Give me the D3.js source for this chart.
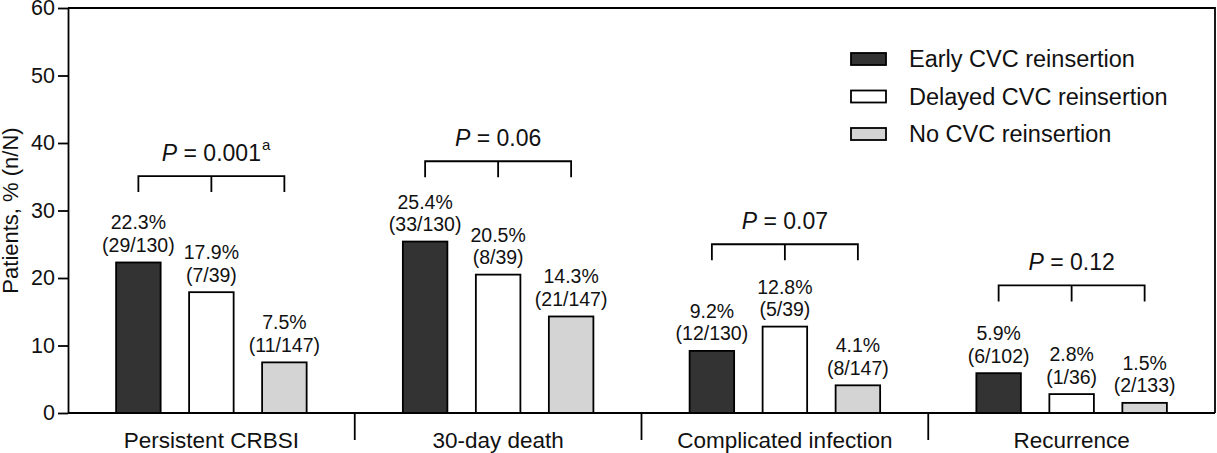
<!DOCTYPE html>
<html>
<head>
  <meta charset="utf-8">
  <script src="https://d3js.org/d3.v7.min.js"></script>
  <style>
    body { margin: 0; background: #fff; }
    svg { display: block; font-family: "Liberation Sans", Arial, sans-serif; }
  </style>
</head>
<body>
  <svg width="1217" height="453"></svg>

  <script>
    // Chart data
    var categories = ["Persistent CRBSI", "30-day death", "Complicated infection", "Recurrence"];
    var seriesNames = ["Early CVC reinsertion", "Delayed CVC reinsertion", "No CVC reinsertion"];
    var earlyPct = [22.3, 25.4, 9.2, 5.9];
    var earlyN = ["29/130", "33/130", "12/130", "6/102"];
    var delayedPct = [17.9, 20.5, 12.8, 2.8];
    var delayedN = ["7/39", "8/39", "5/39", "1/36"];
    var nonePct = [7.5, 14.3, 4.1, 1.5];
    var noneN = ["11/147", "21/147", "8/147", "2/133"];
    var pValues = ["0.001", "0.06", "0.07", "0.12"];
    var pNotes = ["a", "", "", ""];
    var bracketLevel = [35.1, 37.3, 25.0, 18.9];
    var yTicks = [0, 10, 20, 30, 40, 50, 60];

    var colors = ["#333333", "#ffffff", "#d4d4d4"];

    var svg = d3.select("svg");
    var margin = { left: 68, right: 2, top: 8, bottom: 40 };
    var W = 1217, H = 453;

    var x = d3.scaleBand()
      .domain(categories)
      .range([margin.left, W - margin.right])
      .padding(0);

    var xs = d3.scaleBand()
      .domain(seriesNames)
      .range([0, x.bandwidth()])
      .paddingInner(0.39)
      .paddingOuter(0.659);

    var y = d3.scaleLinear()
      .domain([0, 60])
      .range([H - margin.bottom, margin.top]);

    // build rows for the bars
    var pctBySeries = [earlyPct, delayedPct, nonePct];
    var nBySeries = [earlyN, delayedN, noneN];
    var rows = [];
    categories.forEach((c, i) => {
      seriesNames.forEach((s, j) => {
        rows.push({ cat: c, series: s, idx: j, value: pctBySeries[j][i], n: nBySeries[j][i] });
      });
    });

    // frame (top + right)
    svg.append("path")
      .attr("d", `M${margin.left},${y(60)} H${W - margin.right} V${y(0)}`)
      .attr("fill", "none")
      .attr("stroke", "#000")
      .attr("stroke-width", 1.8);

    // bars
    svg.selectAll("rect.bar")
      .data(rows)
      .enter()
      .append("rect")
      .attr("class", "bar")
      .attr("x", d => x(d.cat) + xs(d.series))
      .attr("y", d => y(d.value))
      .attr("width", xs.bandwidth())
      .attr("height", d => y(0) - y(d.value))
      .attr("fill", d => colors[d.idx])
      .attr("stroke", "#000")
      .attr("stroke-width", 1.8);

    // bar labels
    var lab = svg.selectAll("text.val")
      .data(rows)
      .enter()
      .append("text")
      .attr("class", "val")
      .attr("text-anchor", "middle")
      .attr("font-size", 19.5)
      .attr("fill", "#111");
    lab.append("tspan")
      .attr("x", d => x(d.cat) + xs(d.series) + xs.bandwidth() / 2)
      .attr("y", d => y(d.value) - 33)
      .text(d => d.value.toFixed(1) + "%");
    lab.append("tspan")
      .attr("x", d => x(d.cat) + xs(d.series) + xs.bandwidth() / 2)
      .attr("y", d => y(d.value) - 10.5)
      .text(d => "(" + d.n + ")");

    // brackets with P values
    categories.forEach((c, i) => {
      var cx = seriesNames.map(s => x(c) + xs(s) + xs.bandwidth() / 2);
      var by = y(bracketLevel[i]);
      svg.append("path")
        .attr("d", `M${cx[0]},${by + 16} V${by} H${cx[2]} V${by + 16} M${cx[1]},${by} V${by + 16}`)
        .attr("fill", "none")
        .attr("stroke", "#000")
        .attr("stroke-width", 1.8);

      var t = svg.append("text")
        .attr("x", cx[1])
        .attr("y", by - 15)
        .attr("text-anchor", "middle")
        .attr("font-size", 23)
        .attr("fill", "#111");
      t.append("tspan").attr("font-style", "italic").text("P");
      t.append("tspan").text(" = " + pValues[i]);

      if (pNotes[i]) {
        var box = t.node().getBBox();
        svg.append("text")
          .attr("x", box.x + box.width + 1)
          .attr("y", by - 26)
          .attr("font-size", 15)
          .attr("fill", "#111")
          .text(pNotes[i]);
      }
    });

    // y axis
    var yAxis = svg.append("g")
      .attr("transform", `translate(${margin.left},0)`)
      .call(d3.axisLeft(y).tickValues(yTicks).tickSize(10).tickPadding(3).tickSizeOuter(0));
    yAxis.selectAll("path, line").attr("stroke", "#000").attr("stroke-width", 1.8);
    yAxis.selectAll("text")
      .attr("font-size", 21.5)
      .attr("font-family", "Liberation Sans, Arial, sans-serif")
      .attr("fill", "#111");

    // x axis: baseline with divider ticks between groups
    svg.append("line")
      .attr("x1", margin.left).attr("x2", W - margin.right)
      .attr("y1", y(0)).attr("y2", y(0))
      .attr("stroke", "#000")
      .attr("stroke-width", 1.8);

    svg.selectAll("line.div")
      .data(categories.slice(1))
      .enter()
      .append("line")
      .attr("class", "div")
      .attr("x1", d => x(d)).attr("x2", d => x(d))
      .attr("y1", y(0)).attr("y2", y(0) + 27)
      .attr("stroke", "#000")
      .attr("stroke-width", 1.8);

    svg.selectAll("text.cat")
      .data(categories)
      .enter()
      .append("text")
      .attr("class", "cat")
      .attr("x", d => x(d) + x.bandwidth() / 2)
      .attr("y", y(0) + 35)
      .attr("text-anchor", "middle")
      .attr("font-size", 22.5)
      .attr("fill", "#111")
      .text(d => d);

    // y axis title
    svg.append("text")
      .attr("transform", `translate(18,${(y(0) + y(60)) / 2}) rotate(-90)`)
      .attr("text-anchor", "middle")
      .attr("font-size", 22)
      .attr("fill", "#111")
      .text("Patients, % (n/N)");

    // legend
    var legend = svg.selectAll("g.leg")
      .data(seriesNames)
      .enter()
      .append("g")
      .attr("class", "leg")
      .attr("transform", (d, i) => `translate(851,${59 + i * 37.5})`);
    legend.append("rect")
      .attr("x", 0).attr("y", -6)
      .attr("width", 35).attr("height", 12)
      .attr("fill", (d, i) => colors[i])
      .attr("stroke", "#000")
      .attr("stroke-width", 1.8);
    legend.append("text")
      .attr("x", 58)
      .attr("y", 8)
      .attr("font-size", 23.5)
      .attr("fill", "#111")
      .text(d => d);
  </script>
</body>
</html>
